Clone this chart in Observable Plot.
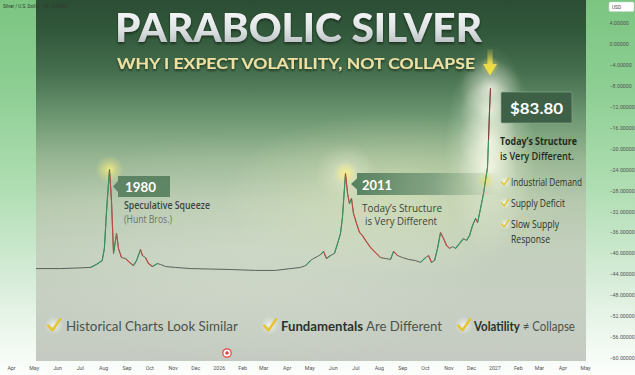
<!DOCTYPE html>
<html><head><meta charset="utf-8">
<script src="https://cdn.jsdelivr.net/npm/d3@7"></script>
<script src="https://cdn.jsdelivr.net/npm/@observablehq/plot@0.6"></script>
<style>
html,body{margin:0;padding:0;background:#fff;}
#wrap{position:relative;width:635px;height:375px;overflow:hidden;font-family:"Open Sans",sans-serif;
 background:linear-gradient(180deg,#7bc581 0%,#8fcf95 25%,#b2dfb5 52%,#d6ecd8 74%,#eff8ef 90%,#fcfefc 100%);}
#panel{position:absolute;left:36px;top:0;width:550px;height:361px;
 background:
  radial-gradient(ellipse 60px 140px at 454px 150px, rgba(255,255,235,0.55), rgba(255,255,235,0) 75%),
  radial-gradient(ellipse 230px 110px at 360px 195px, rgba(232,238,190,0.45), rgba(232,238,190,0) 75%),
  radial-gradient(ellipse 320px 160px at 220px 250px, rgba(222,230,212,0.35), rgba(222,230,212,0) 75%),
  linear-gradient(180deg,#2b4d34 0%,#335a3c 10%,#456f4e 20%,#6b9670 32%,#98b693 44%,#b6c9ae 56%,#c4d0be 70%,#c7cfc3 85%,#c4cac1 100%);}
.layer{position:absolute;left:0;top:0;}
</style></head>
<body>
<div id="wrap"><div id="panel"></div></div>
<script>
// ---------- data ----------
const monthLabels = ["Apr","May","Jun","Jul","Aug","Sep","Oct","Nov","Dec","2026","Feb","Mar","Apr","May","Jun","Jul","Aug","Sep","Oct","Nov","Dec","2027","Feb","Mar","Apr","May"];
const yTicks = [4,0,-4,-8,-12,-16,-20,-24,-28,-32,-36,-40,-44,-48,-52,-56,-60];

const years = [1970.0,1973.3,1976.0,1977.4,1978.2,1979.0,1979.3,1979.6,1980.0,1980.26,1980.53,1980.92,1981.18,1981.58,1982.1,1982.63,1983.15,1983.55,1984.07,1984.33,1984.73,1985.12,1985.65,1986.3,1986.7,1987.36,1988.67,1990.64,1993.27,1995.9,1999.18,2001.8,2003.78,2005.1,2005.75,2006.4,2006.8,2007.33,2007.72,2008.12,2008.5,2009.03,2009.55,2009.95,2010.34,2010.6,2010.87,2011.0,2011.21,2011.41,2011.62,2011.83,2012.14,2012.45,2012.76,2013.07,2013.59,2014.1,2014.62,2015.14,2015.66,2015.97,2016.38,2016.9,2017.52,2018.24,2018.76,2019.28,2019.59,2019.9,2020.21,2020.52,2020.83,2021.14,2021.45,2021.76,2022.07,2022.38,2022.79,2023.2,2023.52,2023.83,2024.14,2024.45,2024.66,2024.86,2025.07,2025.28,2025.48,2025.69,2025.79,2025.9,2026.0];
const prices = [5.2,5.2,5.5,5.7,7.0,8.7,14.0,30.6,48.4,34.9,11.8,20.5,14.0,10.0,9.6,7.9,6.5,8.7,13.5,10.9,10.0,7.4,6.1,7.4,7.0,6.1,5.7,5.2,5.0,4.8,4.4,4.4,5.2,5.7,6.5,8.7,9.6,10.5,11.3,12.7,9.6,10.9,11.8,16.1,20.5,27.5,40.6,46.7,38.0,33.6,35.8,29.2,24.9,21.0,19.6,17.5,14.4,12.2,10.0,9.6,9.2,12.7,10.9,10.0,9.2,8.7,7.9,10.0,10.9,7.9,8.7,14.0,20.9,18.3,15.3,14.0,14.8,14.0,16.1,18.3,17.5,19.6,24.0,27.1,25.3,29.2,33.6,38.0,43.6,49.3,61.1,74.2,83.8];

const peakYears = [1980, 2011, 2026];
const peakPrices = [48.4, 46.7, 83.8];
const peakLabels = ["1980", "2011", "$83.80"];

const title = "PARABOLIC SILVER";
const subtitle = "WHY I EXPECT VOLATILITY, NOT COLLAPSE";
const note1980 = ["Speculative Squeeze", "(Hunt Bros.)"];
const note2011 = ["Today\u2019s Structure", "is Very Different"];
const noteToday = ["Today\u2019s Structure", "is Very Different."];
const drivers = ["Industrial Demand", "Supply Deficit", "Slow Supply", "Response"];

// ---------- derived tables ----------
const series = years.map((y, i) => ({year: y, price: prices[i]}));
const peaks = peakYears.map((y, i) => ({year: y, price: peakPrices[i], label: peakLabels[i]}));
const segs = series.slice(1).map((d, i) => ({
  x1: series[i].year, y1: series[i].price, x2: d.year, y2: d.price,
  c: d.year > 2025.8 ? "#8a3a34" : d.price >= series[i].price ? "#2f9a62" : "#cf443c",
  big: Math.abs(d.price - series[i].price) > 1.2
})).filter(d => d.big);
const monthDates = d3.utcMonth.range(new Date(Date.UTC(2025,3,1)), new Date(Date.UTC(2027,4,2)));
const labelOf = new Map(monthDates.map((d, i) => [+d, monthLabels[i]]));
const fmtY = d => (d < 0 ? "\u2212" : "") + Math.abs(d).toFixed(5);
// the infographic compresses time unevenly: piecewise year warp (applied by the x scale's transform)
const warp = d3.scaleLinear().domain([1970, 1980, 2011, 2026]).range([0, 73, 309, 454]);

const wrap = document.getElementById("wrap");

// gradient defs (document-level, referenced by url())
const defsSvg = d3.select(wrap).append("svg").attr("width",0).attr("height",0).style("position","absolute");
const defs = defsSvg.append("defs");
function radial(id, color, op) {
  const g = defs.append("radialGradient").attr("id", id);
  g.append("stop").attr("offset","0%").attr("stop-color",color).attr("stop-opacity",op);
  g.append("stop").attr("offset","45%").attr("stop-color",color).attr("stop-opacity",op*0.45);
  g.append("stop").attr("offset","100%").attr("stop-color",color).attr("stop-opacity",0);
}
radial("glowY", "#fff27a", 0.85);
radial("glowW", "#fffbe0", 0.5);
radial("glowW2", "#fffff0", 0.7);
radial("glowS", "#ffe95a", 0.9);
radial("checkBg", "#ffffff", 0.75);
const sg = defs.append("linearGradient").attr("id","silver").attr("x1",0).attr("y1",0).attr("x2",0).attr("y2",1);
sg.append("stop").attr("offset","0%").attr("stop-color","#ffffff");
sg.append("stop").attr("offset","55%").attr("stop-color","#dfe3e4");
sg.append("stop").attr("offset","100%").attr("stop-color","#a9b1b5");
const ag = defs.append("linearGradient").attr("id","arrowG").attr("x1",0).attr("y1",0).attr("x2",0).attr("y2",1);
ag.append("stop").attr("offset","0%").attr("stop-color","#f3df45").attr("stop-opacity",0.1);
ag.append("stop").attr("offset","60%").attr("stop-color","#f3df45").attr("stop-opacity",0.9);
ag.append("stop").attr("offset","100%").attr("stop-color","#f6e23a").attr("stop-opacity",1);
const bg2011 = defs.append("linearGradient").attr("id","box2011").attr("x1",0).attr("y1",0).attr("x2",1).attr("y2",0);
bg2011.append("stop").attr("offset","0%").attr("stop-color","#4f7b58").attr("stop-opacity",0.95);
bg2011.append("stop").attr("offset","55%").attr("stop-color","#6f9474").attr("stop-opacity",0.75);
bg2011.append("stop").attr("offset","100%").attr("stop-color","#8fb08a").attr("stop-opacity",0);
const f = defs.append("filter").attr("id","tshadow").attr("x","-5%").attr("y","-30%").attr("width","110%").attr("height","160%");
f.append("feDropShadow").attr("dx",0).attr("dy",1.5).attr("stdDeviation",1).attr("flood-color","#0c1c10").attr("flood-opacity",0.75);

// ---------- frame axes (TradingView style) ----------
const axes = Plot.plot({
  width: 635, height: 375,
  marginTop: 0, marginLeft: 0, marginRight: 30, marginBottom: 13,
  style: {background: "transparent", fontFamily: "Roboto, sans-serif", color: "#555"},
  x: {type: "utc", domain: [monthDates[0], monthDates[monthDates.length - 1]], range: [11, 585], label: null},
  y: {domain: [-60, 4], range: [358, 22.7], label: null},
  marks: [
    Plot.axisY(yTicks, {anchor: "right", tickSize: 0, tickPadding: 4, tickFormat: fmtY, fontSize: 5.3, fill: "#555", label: null}),
    Plot.axisX(monthDates, {anchor: "bottom", tickSize: 0, tickPadding: 3.5, tickFormat: d => labelOf.get(+d), fontSize: 5.3, fill: "#555", label: null})
  ]
});
axes.classList.add("layer");
wrap.appendChild(axes);

// ---------- silver price history ----------
const price = Plot.plot({
  width: 635, height: 375, margin: 0,
  style: {background: "transparent", overflow: "visible"},
  x: {transform: warp, domain: [0, 454], range: [36, 490], axis: null},
  y: {domain: [0, 83.8], range: [280, 88], axis: null},
  marks: [
    Plot.dot(peaks.slice(1, 2), {x: "year", y: "price", r: 30, fill: "url(#glowW)"}),
    Plot.dot(series.filter(d => d.year >= 2025.5), {x: "year", y: "price", r: 30, fill: "url(#glowW2)"}),
    Plot.dot(peaks.slice(0, 1), {x: "year", y: "price", r: 14, fill: "url(#glowY)"}),
    Plot.dot(peaks.slice(1, 2), {x: "year", y: "price", r: 12, fill: "url(#glowY)"}),
    Plot.dot(series.filter(d => d.year === 2025.48), {x: "year", y: "price", r: 9, fill: "url(#glowS)"}),
    Plot.line(series, {x: "year", y: "price", stroke: "#474b47", strokeWidth: 0.85}),
    Plot.link(segs, {x1: "x1", y1: "y1", x2: "x2", y2: "y2", stroke: "c", strokeWidth: 1.1, strokeOpacity: 0.85})
  ]
});
price.classList.add("layer");
wrap.appendChild(price);

const xs = price.scale("x"), ys = price.scale("y");
const sx = v => xs.apply(warp(v)), sy = v => ys.apply(v);

// ---------- annotations ----------
const svg = d3.select(wrap).append("svg").attr("class","layer").attr("width",635).attr("height",375)
  .style("font-family", "'Open Sans', sans-serif");

// TradingView header + currency box
svg.append("text").attr("x",3).attr("y",8).attr("font-size",4.6).attr("fill","#2f3a30")
  .attr("font-family","Roboto, sans-serif").text("Silver / U.S. Dollar \u00b7 1D \u00b7 OANDA");
svg.append("rect").attr("x",609).attr("y",2).attr("width",25).attr("height",9.5).attr("rx",1.5)
  .attr("fill","#fff").attr("stroke","#cfd8cf").attr("stroke-width",0.6);
svg.append("text").attr("x",612).attr("y",8.6).attr("font-size",4.8).attr("fill","#444")
  .attr("font-family","Roboto, sans-serif").text("USD");

// title
svg.append("text").attr("x",115).attr("y",42).attr("font-family","Lato, sans-serif").attr("font-weight",900)
  .attr("font-size",40).attr("textLength",367).attr("lengthAdjust","spacingAndGlyphs")
  .attr("fill","url(#silver)").attr("filter","url(#tshadow)").text(title);
svg.append("text").attr("x",117).attr("y",68.5).attr("font-family","Lato, sans-serif").attr("font-weight",700)
  .attr("font-size",16).attr("textLength",358).attr("lengthAdjust","spacingAndGlyphs")
  .attr("fill","#ece0a2").attr("filter","url(#tshadow)").text(subtitle);

// arrow above the current peak
const ax = sx(2026);
svg.append("circle").attr("cx",ax).attr("cy",66).attr("r",10).attr("fill","url(#glowS)").attr("opacity",0.6);
svg.append("path").attr("d",`M${ax-2.6},49 L${ax+2.6},49 L${ax+2.6},64 L${ax+7},64 L${ax},75.5 L${ax-7},64 L${ax-2.6},64 Z`)
  .attr("fill","url(#arrowG)");

// 1980 label
const p0x = sx(1980);
svg.append("path").attr("d",`M${p0x+4},186.5 L${p0x+9},181 L${p0x+9},176 L170,176 L170,197 L${p0x+9},197 L${p0x+9},192 Z`)
  .attr("fill","#577f5e").attr("fill-opacity",0.92);
svg.append("text").attr("x",125).attr("y",191.5).attr("font-family","Lato, sans-serif").attr("font-weight",700)
  .attr("font-size",14).attr("textLength",31).attr("lengthAdjust","spacingAndGlyphs").attr("fill","#fff").text(peakLabels[0]);
svg.append("text").attr("x",124).attr("y",209).attr("font-size",10.5).attr("font-weight",600)
  .attr("textLength",86).attr("lengthAdjust","spacingAndGlyphs").attr("fill","#3b473c").text(note1980[0]);
svg.append("text").attr("x",124).attr("y",223).attr("font-size",10).attr("font-weight",400)
  .attr("textLength",48).attr("lengthAdjust","spacingAndGlyphs").attr("fill","#6a736b").text(note1980[1]);

// 2011 label
const p1x = sx(2011);
svg.append("path").attr("d",`M${p1x+6},184 L${p1x+12},178.5 L${p1x+12},173 L500,173 L500,195 L${p1x+12},195 L${p1x+12},189.5 Z`)
  .attr("fill","url(#box2011)");
svg.append("text").attr("x",362).attr("y",189.5).attr("font-family","Lato, sans-serif").attr("font-weight",700)
  .attr("font-size",14).attr("textLength",30).attr("lengthAdjust","spacingAndGlyphs").attr("fill","#fff").text(peakLabels[1]);
svg.append("text").attr("x",362).attr("y",212).attr("font-size",10.5).attr("font-weight",500)
  .attr("textLength",80).attr("lengthAdjust","spacingAndGlyphs").attr("fill","#3b473c").text(note2011[0]);
svg.append("text").attr("x",365).attr("y",224.5).attr("font-size",10.5).attr("font-weight",500)
  .attr("textLength",72).attr("lengthAdjust","spacingAndGlyphs").attr("fill","#3b473c").text(note2011[1]);

// $83.80 label
svg.append("rect").attr("x",501).attr("y",92).attr("width",71).attr("height",31).attr("rx",1.5)
  .attr("fill","#3d6047").attr("stroke","#8fae91").attr("stroke-opacity",0.6).attr("stroke-width",1);
svg.append("text").attr("x",536.5).attr("y",113.5).attr("text-anchor","middle").attr("font-family","Lato, sans-serif")
  .attr("font-weight",700).attr("font-size",15).attr("textLength",53).attr("lengthAdjust","spacingAndGlyphs")
  .attr("fill","#fff").text(peakLabels[2]);
svg.append("text").attr("x",500).attr("y",145).attr("font-size",10.5).attr("font-weight",700)
  .attr("textLength",77).attr("lengthAdjust","spacingAndGlyphs").attr("fill","#1f2b21").text(noteToday[0]);
svg.append("text").attr("x",500).attr("y",160).attr("font-size",10.5).attr("font-weight",600)
  .attr("textLength",74).attr("lengthAdjust","spacingAndGlyphs").attr("fill","#1f2b21").text(noteToday[1]);

function check(cx, cy, s) {
  svg.append("circle").attr("cx",cx).attr("cy",cy).attr("r",s*0.62).attr("fill","url(#checkBg)");
  svg.append("path").attr("d",`M${cx-s*0.38},${cy+s*0.02} L${cx-s*0.1},${cy+s*0.32} L${cx+s*0.4},${cy-s*0.42}`)
    .attr("fill","none").attr("stroke","#e5c436").attr("stroke-width",s*0.17)
    .attr("stroke-linecap","round").attr("stroke-linejoin","round");
}
const dw = [71, 54, 48, 39], dyv = [186, 207, 228, 243];
drivers.forEach((t, i) => {
  if (i < 3) check(505, dyv[i] - 4, 9);
  svg.append("text").attr("x",511).attr("y",dyv[i]).attr("font-size",10).attr("font-weight",400)
    .attr("textLength",dw[i]).attr("lengthAdjust","spacingAndGlyphs").attr("fill","#2a322b").text(t);
});

// bottom checklist (each line squeezed horizontally to the reference width)
const by = 330.5;
function item(cx, x, len, parts) {
  check(cx, by - 5, 15);
  const g = svg.append("g");
  const t = g.append("text").attr("x",0).attr("y",0).attr("font-family","Lato, sans-serif").attr("font-size",14);
  parts.forEach(([s, bold]) => t.append("tspan").attr("font-weight", bold ? 700 : 400)
    .attr("fill", bold ? "#2a332b" : "#4b534b").text(s));
  const natural = t.node().getComputedTextLength() || len;
  g.attr("transform", `translate(${x},${by}) scale(${len / natural},1)`);
}
item(54, 66, 172, [["Historical Charts Look Similar", false]]);
item(270, 281, 161, [["Fundamentals", true], [" Are Different", false]]);
item(464, 474, 101, [["Volatility", true], [" \u2260 Collapse", false]]);

// event marker
svg.append("circle").attr("cx",227).attr("cy",353).attr("r",4.2).attr("fill","#fff").attr("stroke","#e0443c").attr("stroke-width",1.2);
svg.append("circle").attr("cx",227).attr("cy",353).attr("r",1.8).attr("fill","#e0443c");
</script>
</body></html>
